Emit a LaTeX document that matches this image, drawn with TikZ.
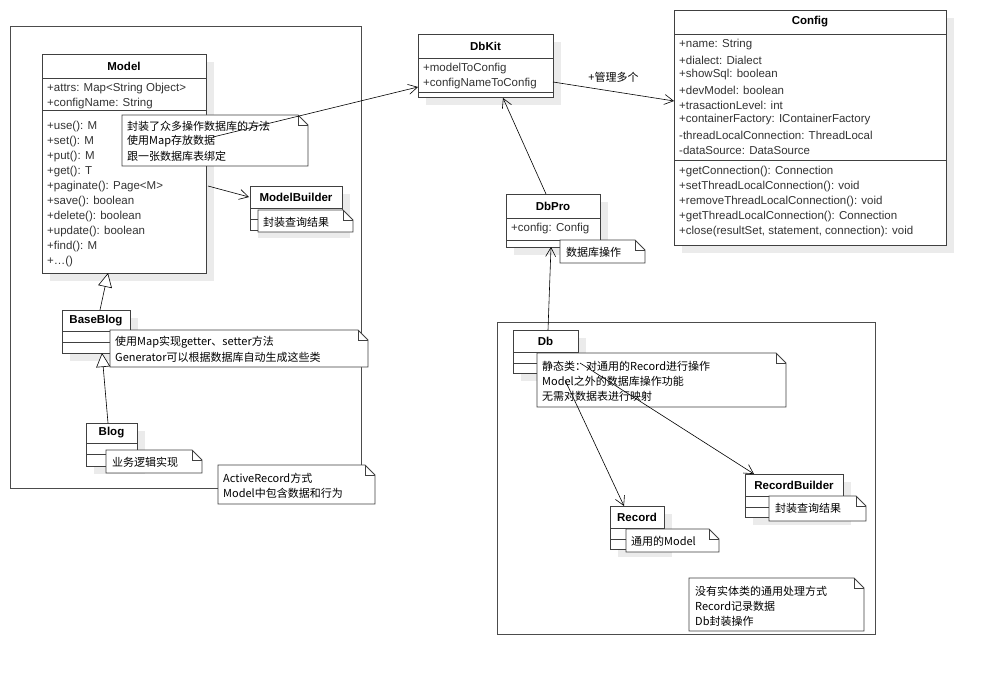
\documentclass[tikz,border=0pt]{standalone}
\usepackage{fontspec}
\setmainfont{Liberation Sans}
\newfontfamily\cjk{Noto Sans CJK SC}
\usetikzlibrary{arrows.meta}
\tikzset{
  txt/.style={anchor=west,inner sep=0pt,font=\fontsize{11.5}{14}\selectfont,text=black!80},
  ttl/.style={anchor=center,inner sep=0pt,font=\fontsize{11.5}{14}\selectfont\bfseries},
  ntxt/.style={anchor=west,inner sep=0pt,font=\cjk\fontsize{11}{14}\selectfont,text=black},
  frame/.style={draw=black!70,line width=0.9pt},
  box/.style={draw=black!75,line width=0.9pt,fill=white},
  shad/.style={fill=black!8,draw=none},
  assoc/.style={draw=black,line width=0.6pt,-{Straight Barb[length=9pt,width=10pt]}},
  gen/.style={draw=black,line width=0.6pt,-{Triangle[open,length=14pt,width=14pt,fill=white]}}
}
\newcommand{\clsbox}[8]{% name x1 y1 x2 y2 title d1 d2
  \fill[shad] (#2+8,#3+8) rectangle (#4+8,#5+8);
  \draw[box] (#2,#3) rectangle (#4,#5);
  \draw[black!75,line width=0.9pt] (#2,#7) -- (#4,#7) (#2,#8) -- (#4,#8);
  \node[ttl] (#1) at ({(#2+#4)/2},{(#3+#7)/2}) {#6};
  \coordinate (#1-nw) at (#2,#3);
}
\newcommand{\notebox}[5]{% name x1 y1 x2 y2
  \draw[box] (#2,#3) -- (#4-10,#3) -- (#4,#3+10) -- (#4,#5) -- (#2,#5) -- cycle;
  \draw[black!75,line width=0.9pt] (#4-10,#3) -- (#4-10,#3+10) -- (#4,#3+10);
  \coordinate (#1) at (#2,#3);
}
\begin{document}
\begin{tikzpicture}[x=1pt,y=-1pt]
\useasboundingbox[fill=white] (0,0) rectangle (986,674);
% packages
\draw[frame] (10,26) rectangle (361,488);
\draw[frame] (497,322) rectangle (875,634);
% Model
\clsbox{model}{42}{54}{206}{273}{Model}{78}{110}
\foreach \t [count=\i] in {+attrs: Map<String Object>,+configName: String}
  \node[txt] at (47,{74+15*\i}) {\t};
\foreach \t [count=\i] in {+use(): M,+set(): M,+put(): M,+get(): T,+paginate(): Page<M>,+save(): boolean,+delete(): boolean,+update(): boolean,+find(): M}
  \node[txt] at (47,{112+15*\i}) {\t};
\node[txt] (mdots) at (47,262) {+\ldots()};
% ModelBuilder
\clsbox{mb}{250}{186}{342}{230}{ModelBuilder}{208}{219}
\notebox{mbn}{258}{210}{353}{232}
\node[ntxt] at (263,222) {封装查询结果};
% Note 1
\notebox{n1}{122}{115}{308}{166}
\node[ntxt] at (127,126) {封装了众多操作数据库的方法};
\node[ntxt] at (127,141) {使用Map存放数据};
\node[ntxt] at (127,156) {跟一张数据库表绑定};
% BaseBlog
\clsbox{bb}{62}{310}{130}{353}{BaseBlog}{331}{342}
\notebox{n2}{110}{330}{368}{367}
\node[ntxt] at (115,342) {使用Map实现getter、setter方法};
\node[ntxt] at (115,357) {Generator可以根据数据库自动生成这些类};
% Blog
\clsbox{blog}{86}{423}{137}{466}{Blog}{443}{454}
\notebox{n3}{106}{450}{202}{473}
\node[ntxt] at (112,462) {业务逻辑实现};
\notebox{n4}{218}{465}{375}{504}
\node[ntxt] at (223,478) {ActiveRecord方式};
\node[ntxt] at (223,493) {Model中包含数据和行为};
% DbKit
\clsbox{dbkit}{418}{34}{553}{97}{DbKit}{58}{92}
\node[txt] at (423,69) {+modelToConfig};
\node[txt] at (423,84) {+configNameToConfig};
% Config
\clsbox{config}{674}{10}{946}{245}{Config}{34}{160}
\foreach \t [count=\i] in {+name: String,+dialect: Dialect,+showSql: boolean,+devModel: boolean,+trasactionLevel: int,+containerFactory: IContainerFactory,-threadLocalConnection: ThreadLocal,-dataSource: DataSource}
  \node[txt] at (679,{30+15*\i}) {\t};
\foreach \t [count=\i] in {+getConnection(): Connection,+setThreadLocalConnection(): void,+removeThreadLocalConnection(): void,+getThreadLocalConnection(): Connection,{+close(resultSet, statement, connection): void}}
  \node[txt] at (679,{157+15*\i}) {\t};
% DbPro
\clsbox{dbpro}{506}{194}{600}{247}{DbPro}{218}{240}
\node[txt] at (511,229) {+config: Config};
\notebox{n5}{560}{240}{645}{263}
\node[ntxt] at (566,252) {数据库操作};
% Db
\clsbox{db}{513}{330}{578}{373}{Db}{352}{363}
\notebox{n6}{537}{353}{786}{407}
\node[ntxt] at (542,366) {静态类：对通用的Record进行操作};
\node[ntxt] at (542,381) {Model之外的数据库操作功能};
\node[ntxt] at (542,396) {无需对数据表进行映射};
% RecordBuilder
\clsbox{rb}{745}{474}{843}{517}{RecordBuilder}{496}{507}
\notebox{rbn}{769}{496}{866}{521}
\node[ntxt] at (775,508) {封装查询结果};
% Record
\clsbox{rec}{610}{506}{664}{549}{Record}{528}{539}
\notebox{recn}{626}{529}{719}{552}
\node[ntxt] at (631,541) {通用的Model};
% bottom note
\notebox{n7}{689}{578}{864}{631}
\node[ntxt] at (695,591) {没有实体类的通用处理方式};
\node[ntxt] at (695,606) {Record记录数据};
\node[ntxt] at (695,621) {Db封装操作};
% connectors
\coordinate (mA) at (213,137);
\coordinate (dkL) at (418,87);
\draw[assoc] (mA) -- (dkL);
\coordinate (mR) at (208,186);
\coordinate (mbL) at (249,197);
\draw[assoc] (mR) -- (mbL);
\coordinate (dkR) at (553,82);
\coordinate (cfL) at (674,101);
\draw[assoc] (dkR) -- node[pos=0.5,above=5pt,font=\cjk\fontsize{11}{14}\selectfont]{+管理多个} (cfL);
\coordinate (dpT) at (546,194);
\coordinate (dkB) at (503,98);
\draw[assoc] (dpT) -- (dkB);
\coordinate (dbT) at (548,330);
\coordinate (dpB) at (551,247);
\draw[assoc] (dbT) -- (dpB);
\coordinate (db1) at (565,380);
\coordinate (recT) at (624,506);
\draw[assoc] (db1) -- (recT);
\coordinate (db2) at (580,363);
\coordinate (rbT) at (754,474);
\draw[assoc] (db2) -- (rbT);
\coordinate (bbT) at (100,310);
\coordinate (mB) at (108,273);
\draw[gen] (bbT) -- (mB);
\coordinate (blT) at (108,423);
\coordinate (bbB) at (102,353);
\draw[gen] (blT) -- (bbB);
\end{tikzpicture}
\end{document}
